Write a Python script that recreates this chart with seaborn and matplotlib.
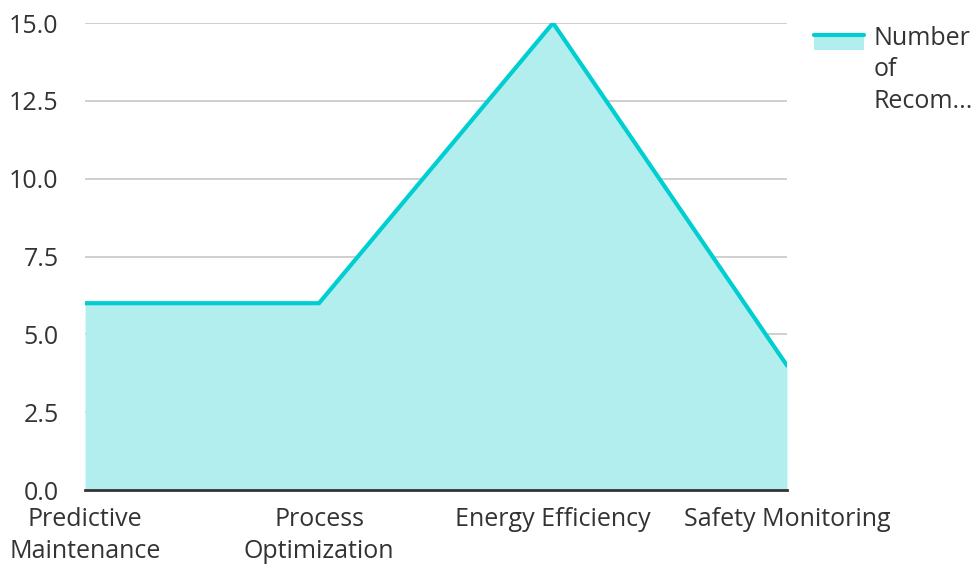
import matplotlib
matplotlib.use("Agg")
import matplotlib.pyplot as plt
import seaborn as sns
import pandas as pd
from matplotlib.legend_handler import HandlerBase
from matplotlib.patches import Rectangle
from matplotlib.lines import Line2D

categories = ["Predictive\nMaintenance", "Process\nOptimization", "Energy Efficiency", "Safety Monitoring"]
values = [6, 6, 15, 4]
legend_label = "Number\nof\nRecom..."
y_ticks = [0.0, 2.5, 5.0, 7.5, 10.0, 12.5, 15.0]

LINE = "#00CED1"
FILL = "#B2EEEE"
TEXT = "#333333"
FONT_SIZE = 18

sns.set_theme(style="white")
plt.rcParams["font.family"] = ["Open Sans", "DejaVu Sans"]

df = pd.DataFrame({"x": range(len(categories)), "y": values})

fig = plt.figure(figsize=(9.73, 5.64), dpi=100)
ax = fig.add_axes([0.0874, 0.1312, 0.7214, 0.828])

ax.fill_between(df["x"], df["y"], 0, color=FILL, linewidth=0, zorder=2)
sns.lineplot(data=df, x="x", y="y", ax=ax, color=LINE, linewidth=3, zorder=3)

ax.set_xlim(0, len(categories) - 1)
ax.set_ylim(0, 15)
ax.set_yticks(y_ticks)
ax.set_yticklabels([f"{t:.1f}" for t in y_ticks])
ax.set_xticks(range(len(categories)))
ax.set_xticklabels(categories)
ax.set_xlabel("")
ax.set_ylabel("")

ax.grid(axis="y", color="#cccccc", linewidth=1.3, zorder=1)
ax.set_axisbelow(True)
for side in ["left", "right", "top"]:
    ax.spines[side].set_visible(False)
ax.spines["bottom"].set_color(TEXT)
ax.spines["bottom"].set_linewidth(2)
ax.spines["bottom"].set_zorder(4)

ax.tick_params(axis="y", length=0, pad=19, labelsize=FONT_SIZE, labelcolor=TEXT)
ax.tick_params(axis="x", length=0, pad=12.5, labelsize=FONT_SIZE, labelcolor=TEXT)
for lbl in ax.get_xticklabels():
    lbl.set_linespacing(1.33)


class AreaHandler(HandlerBase):
    """Legend key: a filled band with the series line along its top edge,
    raised so it sits beside the first line of a wrapped label."""

    def __init__(self, lift=0.0, **kw):
        super().__init__(**kw)
        self.lift = lift

    def create_artists(self, legend, orig_handle, xdescent, ydescent,
                       width, height, fontsize, trans):
        y0 = -ydescent + self.lift
        rect = Rectangle((-xdescent, y0), width, height,
                         facecolor=FILL, edgecolor="none", transform=trans)
        line = Line2D([-xdescent, -xdescent + width], [y0 + height] * 2,
                      color=LINE, linewidth=3, transform=trans)
        return [rect, line]


handle = Rectangle((0, 0), 1, 1)
leg = fig.legend([handle], [legend_label],
                 handler_map={Rectangle: AreaHandler(lift=20.0)},
                 loc="upper left", bbox_to_anchor=(0.826, 0.971), frameon=False,
                 fontsize=FONT_SIZE, handlelength=2.0, handleheight=0.55,
                 handletextpad=0.4, borderaxespad=0)
for t in leg.get_texts():
    t.set_color(TEXT)
    t.set_linespacing(1.32)

fig.savefig("out.png", dpi=100)
